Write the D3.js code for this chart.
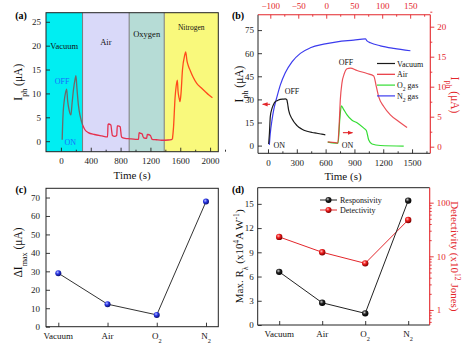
<!DOCTYPE html>
<html><head><meta charset="utf-8">
<script src="https://cdn.jsdelivr.net/npm/d3@7"></script>
<style>body{margin:0;background:#fff}svg{display:block}</style>
</head><body>
<script>
// ---------------- DATA ----------------
// (a) photocurrent vs time across environments
const aTime=[17,22,30,45,60,77,90,110,134,150,170,190,201,215,235,255,275,291,322,367,450,550,625,632,640,670,680,690,720,748,756,765,795,803,812,860,920,1000,1040,1048,1060,1090,1100,1110,1150,1158,1166,1200,1210,1222,1280,1350,1440,1495,1510,1530,1545,1561,1570,1585,1597,1610,1630,1660,1673,1690,1710,1731,1770,1821,1880,1933,1980,2031];
const aCurrent=[0.3,3,6,8.5,10,10.9,8.5,6.5,5.5,8,11,13,13.7,11,7.5,5.5,4.2,3.4,2.4,1.8,1.4,1.1,0.9,3.5,3.6,3.4,2.2,1.2,1.0,1.2,3.2,3.2,3.0,2.0,0.9,0.6,0.5,0.4,0.4,1.8,1.7,1.5,1.0,0.7,0.6,1.4,1.4,1.2,0.8,0.4,0.3,0.2,0.25,0.4,3,9,11.5,12.8,10.5,9,8.3,10,15,18,18.7,16.8,15.7,14.9,13.5,12.1,11.2,10.4,9.7,9.1];
const aRegionNames=["Vacuum","Air","Oxygen","Nitrogen"];
const aRegionEdges=[-200,290,915,1385,2110];
const aXTicks=[0,400,800,1200,1600,2000];
const aYTicks=[0,5,10,15,20,25];

// (b) single ON/OFF cycles
const bVacuumTime=[7,15,24,42,60,76,100,128,160,180,196,205,215,250,302,350,406,460,510,560,597];
const bVacuumI=[1,8,18.8,24.2,27,28.5,29.3,30,30.2,30.3,29.8,27,23,17.4,13,10.8,9.3,8.5,8,7.4,7];
const bN2Time=[14,24,42,59,94,128,180,250,337,441,580,719,893,1014,1031,1066,1170,1309,1483];
const bN2I=[0.5,8,16.7,23,31.8,39.3,47.3,54.4,59.9,63.5,65.9,67.4,68.5,69.3,68,66.8,64.8,63.1,61.6];
const bAirTime=[622,701,726,740,753,770,795,823,858,927,1031,1101,1128,1153,1205,1274,1361,1448];
const bAirI=[0.8,0.67,0.6,3.3,7.8,10.6,12.2,13.0,13.1,12.7,12.2,11.8,10,8.3,6.7,5.3,4.2,3.2];
const bO2Time=[622,701,730,747,764,781,823,875,927,997,1024,1049,1083,1170,1413];
const bO2I=[0.75,0.6,0.6,4.4,6.8,6.4,5.3,4.4,4.0,3.1,2.7,1.1,0.45,0.2,0.1];
const bXTicks=[0,300,600,900,1200,1500];
const bTopTicks=[-100,-50,0,50,100,150];
const bLeftTicks=[0,15,30,45,60,75];
const bRightTicks=[0,5,10,15,20];

// (c),(d) per-gas summaries
const gases=["Vacuum","Air","O2","N2"];
const deltaImax=[29,12.2,6.4,67.8];
const responsivity=[6.58,2.75,1.44,15.4];
const detectivity=[23,11.9,7.4,47.6];
const cYTicks=[0,10,20,30,40,50,60,70];
const dYTicks=[0,3,6,9,12,15];
const dRTicks=[1,10,100];

// ---------------- SETUP ----------------
const FONT='"Liberation Serif","Times New Roman",serif';
const RED="#e3262b";
const fmt=d3.format("d");
const svg=d3.select("body").append("svg").attr("width",474).attr("height",345)
  .attr("font-family",FONT);
const defs=svg.append("defs");
function sphere(id,light,mid,dark){
  const g=defs.append("radialGradient").attr("id",id).attr("cx","38%").attr("cy","35%").attr("r","65%");
  g.append("stop").attr("offset","0%").attr("stop-color",light);
  g.append("stop").attr("offset","45%").attr("stop-color",mid);
  g.append("stop").attr("offset","100%").attr("stop-color",dark);
}
sphere("sBlue","#b8c0ff","#2a36e6","#0a1070");
sphere("sBlack","#c8c8c8","#222","#000");
sphere("sRed","#ffb8b8","#f01c1c","#7a0000");
defs.append("marker").attr("id","arr").attr("viewBox","0 0 10 10").attr("refX",9).attr("refY",5)
  .attr("markerWidth",5).attr("markerHeight",5).attr("orient","auto")
  .append("path").attr("d","M0,1 L10,5 L0,9 Z").attr("fill",RED);

function styleAxis(sel,color,fs){
  sel.select(".domain").remove();
  sel.attr("font-family",FONT).attr("font-size",fs||9);
  sel.selectAll(".tick line").attr("stroke",color).attr("stroke-width",0.9);
  sel.selectAll(".tick text").attr("fill",color);
  return sel;
}
function rich(parent,parts,attrs){
  const t=parent.append("text");
  for(const k in attrs) t.attr(k,attrs[k]);
  parts.forEach(p=>{
    const s=t.append("tspan").text(p[0]);
    if(p[1]==="sub") s.attr("baseline-shift","sub").attr("font-size","70%");
    if(p[1]==="sup") s.attr("baseline-shift","super").attr("font-size","70%");
  });
  return t;
}
function gasLabel(g){ return g==="O2"?[["O"],["2","sub"]]:g==="N2"?[["N"],["2","sub"]]:[[g]]; }

// ---------------- PANEL (a) ----------------
{
  const L=46,R=218.3,T=12.7,B=151.7;
  const x=d3.scaleLinear().domain([-200,2110]).range([L,R]);
  const y=d3.scaleLinear().domain([-2.2,26.9]).range([B,T]);
  const g=svg.append("g");
  const regColors=["#00eef2","#d9d9f9","#b6dcd6","#f9f97c"];
  aRegionNames.forEach((n,i)=>{
    g.append("rect").attr("x",x(aRegionEdges[i])).attr("y",T)
      .attr("width",x(aRegionEdges[i+1])-x(aRegionEdges[i])).attr("height",B-T).attr("fill",regColors[i]);
  });
  aRegionEdges.slice(1,-1).forEach(e=>g.append("line").attr("x1",x(e)).attr("x2",x(e)).attr("y1",T).attr("y2",B).attr("stroke","#7a7a7a").attr("stroke-width",1));
  const fs=[8.5,8.5,8.5,7.5];
  aRegionNames.forEach((n,i)=>{
    const mid=(aRegionEdges[i]+aRegionEdges[i+1])/2;
    g.append("text").attr("x",x(mid)).attr("y",y([19.2,20.2,21.8,23.3][i]))
      .attr("text-anchor","middle").attr("font-size",fs[i]).attr("fill","#111").text(n);
  });
  const pts=aTime.map((t,i)=>[t,aCurrent[i]]);
  const line=d3.line().x(d=>x(d[0])).y(d=>y(d[1])).curve(d3.curveMonotoneX);
  const segs=[[-1e9,291,"#6e6a6a"],[291,1495,"#e5304e"],[1495,1e9,"#ff4a1c"]];
  segs.forEach(s=>{
    const sub=pts.filter(p=>p[0]>=s[0]&&p[0]<=s[1]);
    g.append("path").attr("d",line(sub)).attr("fill","none").attr("stroke",s[2]).attr("stroke-width",1.3);
  });
  g.append("text").attr("x",x(15)).attr("y",y(12.0)).attr("text-anchor","middle").attr("font-size",8).attr("fill","#1a6cff").text("OFF");
  g.append("text").attr("x",x(125)).attr("y",y(-0.8)).attr("text-anchor","middle").attr("font-size",8).attr("fill","#1a6cff").text("ON");
  styleAxis(g.append("g").attr("transform",`translate(0,${B})`).call(d3.axisBottom(x).tickValues(aXTicks).tickFormat(fmt).tickSize(-4).tickSizeOuter(0).tickPadding(6)),"#222");
  styleAxis(g.append("g").attr("transform",`translate(0,${B})`).call(d3.axisBottom(x).tickValues(aXTicks.map(v=>v+200)).tickFormat("").tickSize(-2).tickSizeOuter(0)),"#222");
  styleAxis(g.append("g").attr("transform",`translate(${L},0)`).call(d3.axisLeft(y).tickValues(aYTicks).tickFormat(fmt).tickSize(-4).tickSizeOuter(0).tickPadding(5)),"#222");
  g.append("rect").attr("x",L).attr("y",T).attr("width",R-L).attr("height",B-T).attr("fill","none").attr("stroke","#222").attr("stroke-width",1);
  rich(g,[["I"],["ph","sub"],[" (μA)"]],{transform:`translate(22,${(T+B)/2}) rotate(-90)`,"text-anchor":"middle","font-size":11.5,fill:"#111"});
  g.append("text").attr("x",(L+R)/2).attr("y",179).attr("text-anchor","middle").attr("font-size",11).attr("fill","#111").text("Time (s)");
  g.append("text").attr("x",21).attr("y",19).attr("text-anchor","middle").attr("font-size",10).attr("font-weight","bold").text("(a)");
}

// ---------------- PANEL (b) ----------------
{
  const L=258,R=430.3,T=14.7,B=153.3;
  const x=d3.scaleLinear().domain([-104,1690]).range([L,R]);
  const xt=d3.scaleLinear().domain([-122,186]).range([L,R]);
  const yl=d3.scaleLinear().domain([-5,85]).range([B,T]);
  const yr=d3.scaleLinear().domain([-1.1,22]).range([B,T]);
  const g=svg.append("g");
  const mk=(ts,vs,ys)=>d3.line().x((d,i)=>x(ts[i])).y((d,i)=>ys(vs[i])).curve(d3.curveMonotoneX)(ts);
  g.append("path").attr("d",mk(bN2Time,bN2I,yl)).attr("fill","none").attr("stroke","#3c3cee").attr("stroke-width",1.2);
  g.append("path").attr("d",mk(bVacuumTime,bVacuumI,yl)).attr("fill","none").attr("stroke","#1a1a1a").attr("stroke-width",1.2);
  g.append("path").attr("d",mk(bO2Time,bO2I,yr)).attr("fill","none").attr("stroke","#33dd33").attr("stroke-width",1.2);
  g.append("path").attr("d",mk(bAirTime,bAirI,yr)).attr("fill","none").attr("stroke","#e8303a").attr("stroke-width",1.2).attr("opacity",0.85);
  const ann=(t,v,s)=>g.append("text").attr("x",x(t)).attr("y",yl(v)).attr("text-anchor","middle").attr("font-size",8).attr("fill","#111").text(s);
  ann(250,33.5,"OFF"); ann(812,52.3,"OFF"); ann(118,-1.6,"ON"); ann(828,-1.6,"ON");
  g.append("line").attr("x1",x(22)).attr("x2",x(-55)).attr("y1",yl(26.8)).attr("y2",yl(26.8)).attr("stroke",RED).attr("stroke-width",1.1).attr("marker-end","url(#arr)");
  g.append("line").attr("x1",x(780)).attr("x2",x(880)).attr("y1",yl(8.4)).attr("y2",yl(8.4)).attr("stroke",RED).attr("stroke-width",1.1).attr("marker-end","url(#arr)");
  const leg=[["Vacuum","#1a1a1a"],["Air","#e8303a"],["O2","#33dd33"],["N2","#3c3cee"]];
  leg.forEach((l,i)=>{
    const yy=63.5+i*10.8;
    g.append("line").attr("x1",377).attr("x2",395).attr("y1",yy).attr("y2",yy).attr("stroke",l[1]).attr("stroke-width",1.2);
    const parts=l[0]==="O2"?[["O"],["2","sub"],[" gas"]]:l[0]==="N2"?[["N"],["2","sub"],[" gas"]]:[[l[0]]];
    rich(g,parts,{x:397,y:yy+3,"font-size":8,fill:"#111"});
  });
  styleAxis(g.append("g").attr("transform",`translate(0,${B})`).call(d3.axisBottom(x).tickValues(bXTicks).tickFormat(fmt).tickSize(-4).tickSizeOuter(0).tickPadding(6)),"#222");
  styleAxis(g.append("g").attr("transform",`translate(0,${B})`).call(d3.axisBottom(x).tickValues(bXTicks.map(v=>v+150)).tickFormat("").tickSize(-2).tickSizeOuter(0)),"#222");
  styleAxis(g.append("g").attr("transform",`translate(0,${T})`).call(d3.axisTop(xt).tickValues(bTopTicks).tickSize(-4).tickSizeOuter(0).tickPadding(6).tickFormat(fmt)),RED);
  styleAxis(g.append("g").attr("transform",`translate(0,${T})`).call(d3.axisTop(xt).tickValues(bTopTicks.map(v=>v+25)).tickFormat("").tickSize(-2).tickSizeOuter(0)),RED);
  styleAxis(g.append("g").attr("transform",`translate(${L},0)`).call(d3.axisLeft(yl).tickValues(bLeftTicks).tickFormat(fmt).tickSize(-4).tickSizeOuter(0).tickPadding(4)),"#222");
  styleAxis(g.append("g").attr("transform",`translate(${R},0)`).call(d3.axisRight(yr).tickValues(bRightTicks).tickFormat(fmt).tickSize(4).tickSizeOuter(0).tickPadding(3)),RED);
  styleAxis(g.append("g").attr("transform",`translate(${R},0)`).call(d3.axisRight(yr).tickValues(bRightTicks.map(v=>v+2.5)).tickFormat("").tickSize(2).tickSizeOuter(0)),RED);
  g.append("line").attr("x1",L).attr("x2",R).attr("y1",B).attr("y2",B).attr("stroke","#222");
  g.append("line").attr("x1",L).attr("x2",L).attr("y1",T).attr("y2",B).attr("stroke","#222");
  g.append("line").attr("x1",L).attr("x2",R).attr("y1",T).attr("y2",T).attr("stroke",RED).attr("stroke-width",1.1);
  g.append("line").attr("x1",R).attr("x2",R).attr("y1",T).attr("y2",B).attr("stroke",RED).attr("stroke-width",1.1);
  rich(g,[["I"],["ph","sub"],[" (μA)"]],{transform:`translate(243,${(T+B)/2}) rotate(-90)`,"text-anchor":"middle","font-size":11.5,fill:"#111"});
  rich(g,[["I"],["ph","sub"],[" (μA)"]],{transform:`translate(451,95) rotate(90)`,"text-anchor":"middle","font-size":11.5,fill:RED});
  g.append("text").attr("x",343).attr("y",180).attr("text-anchor","middle").attr("font-size",11).attr("fill","#111").text("Time (s)");
  g.append("text").attr("x",238).attr("y",19).attr("text-anchor","middle").attr("font-size",10).attr("font-weight","bold").text("(b)");
}

// ---------------- PANEL (c) ----------------
{
  const L=46,R=218.3,T=188.3,B=326.7;
  const x=d3.scalePoint().domain(gases).range([L,R]).padding(0.25);
  const y=d3.scaleLinear().domain([0,75]).range([B,T]);
  const g=svg.append("g");
  g.append("path").attr("d",d3.line().x((d,i)=>x(gases[i])).y(d=>y(d))(deltaImax)).attr("fill","none").attr("stroke","#333").attr("stroke-width",1);
  g.selectAll("circle").data(deltaImax).join("circle").attr("cx",(d,i)=>x(gases[i])).attr("cy",d=>y(d)).attr("r",3).attr("fill","url(#sBlue)");
  styleAxis(g.append("g").attr("transform",`translate(0,${B})`).call(d3.axisBottom(x).tickFormat("").tickSize(-4).tickSizeOuter(0)),"#222");
  gases.forEach(c=>rich(g,gasLabel(c),{x:x(c),y:339,"text-anchor":"middle","font-size":9,fill:"#111"}));
  styleAxis(g.append("g").attr("transform",`translate(${L},0)`).call(d3.axisLeft(y).tickValues(cYTicks).tickFormat(fmt).tickSize(-4).tickSizeOuter(0).tickPadding(6)),"#222");
  g.append("rect").attr("x",L).attr("y",T).attr("width",R-L).attr("height",B-T).attr("fill","none").attr("stroke","#222").attr("stroke-width",1);
  rich(g,[["ΔI"],["max","sub"],[" (μA)"]],{transform:`translate(22,${(T+B)/2-5}) rotate(-90)`,"text-anchor":"middle","font-size":11.5,fill:"#111"});
  g.append("text").attr("x",21).attr("y",193).attr("text-anchor","middle").attr("font-size",10).attr("font-weight","bold").text("(c)");
}

// ---------------- PANEL (d) ----------------
{
  const L=257.7,R=429.7,T=187.7,B=325;
  const x=d3.scalePoint().domain(gases).range([L,R]).padding(0.5);
  const yl=d3.scaleLinear().domain([0,17]).range([B,T]);
  const yr=d3.scaleLog().domain([0.525,190]).range([B,T]);
  const g=svg.append("g");
  g.append("path").attr("d",d3.line().x((d,i)=>x(gases[i])).y(d=>yr(d))(detectivity)).attr("fill","none").attr("stroke",RED).attr("stroke-width",1);
  g.append("path").attr("d",d3.line().x((d,i)=>x(gases[i])).y(d=>yl(d))(responsivity)).attr("fill","none").attr("stroke","#222").attr("stroke-width",1);
  g.selectAll("circle.r").data(responsivity).join("circle").attr("class","r").attr("cx",(d,i)=>x(gases[i])).attr("cy",d=>yl(d)).attr("r",3.2).attr("fill","url(#sBlack)");
  g.selectAll("circle.d").data(detectivity).join("circle").attr("class","d").attr("cx",(d,i)=>x(gases[i])).attr("cy",d=>yr(d)).attr("r",3.2).attr("fill","url(#sRed)");
  [["Responsivity","#222","url(#sBlack)"],["Detectivity",RED,"url(#sRed)"]].forEach((l,i)=>{
    const yy=200+i*10;
    g.append("line").attr("x1",320).attr("x2",337).attr("y1",yy).attr("y2",yy).attr("stroke",l[1]).attr("stroke-width",1);
    g.append("circle").attr("cx",328.5).attr("cy",yy).attr("r",3).attr("fill",l[2]);
    g.append("text").attr("x",340).attr("y",yy+3).attr("font-size",8).attr("fill","#111").text(l[0]);
  });
  styleAxis(g.append("g").attr("transform",`translate(0,${B})`).call(d3.axisBottom(x).tickFormat("").tickSize(-4).tickSizeOuter(0)),"#222");
  gases.forEach(c=>rich(g,gasLabel(c),{x:x(c),y:337,"text-anchor":"middle","font-size":9,fill:"#111"}));
  styleAxis(g.append("g").attr("transform",`translate(${L},0)`).call(d3.axisLeft(yl).tickValues(dYTicks).tickFormat(fmt).tickSize(-4).tickSizeOuter(0).tickPadding(4)),"#222");
  styleAxis(g.append("g").attr("transform",`translate(${R},0)`).call(d3.axisRight(yr).tickValues(dRTicks).tickFormat(fmt).tickSize(4).tickSizeOuter(0).tickPadding(3)),RED);
  const minors=[];[0.1,1,10,100].forEach(dd=>[2,3,4,5,6,7,8,9].forEach(m=>{const v=dd*m;if(v>0.53&&v<189)minors.push(v);}));
  styleAxis(g.append("g").attr("transform",`translate(${R},0)`).call(d3.axisRight(yr).tickValues(minors).tickFormat("").tickSize(2).tickSizeOuter(0)),RED);
  g.append("line").attr("x1",L).attr("x2",R).attr("y1",B).attr("y2",B).attr("stroke","#222");
  g.append("line").attr("x1",L).attr("x2",L).attr("y1",T).attr("y2",B).attr("stroke","#222");
  g.append("line").attr("x1",L).attr("x2",R).attr("y1",T).attr("y2",T).attr("stroke","#222");
  g.append("line").attr("x1",R).attr("x2",R).attr("y1",T).attr("y2",B).attr("stroke",RED).attr("stroke-width",1.1);
  rich(g,[["Max. R"],["λ","sub"],[" (x10"],["4","sup"],["A W"],["-1","sup"],[")"]],{transform:`translate(243,${(T+B)/2}) rotate(-90)`,"text-anchor":"middle","font-size":11,fill:"#111"});
  rich(g,[["Detectivity (x10"],["12","sup"],[" Jones)"]],{transform:`translate(451,${(T+B)/2}) rotate(90)`,"text-anchor":"middle","font-size":11,fill:RED});
  g.append("text").attr("x",238).attr("y",193).attr("text-anchor","middle").attr("font-size",10).attr("font-weight","bold").text("(d)");
}
</script>
</body></html>
